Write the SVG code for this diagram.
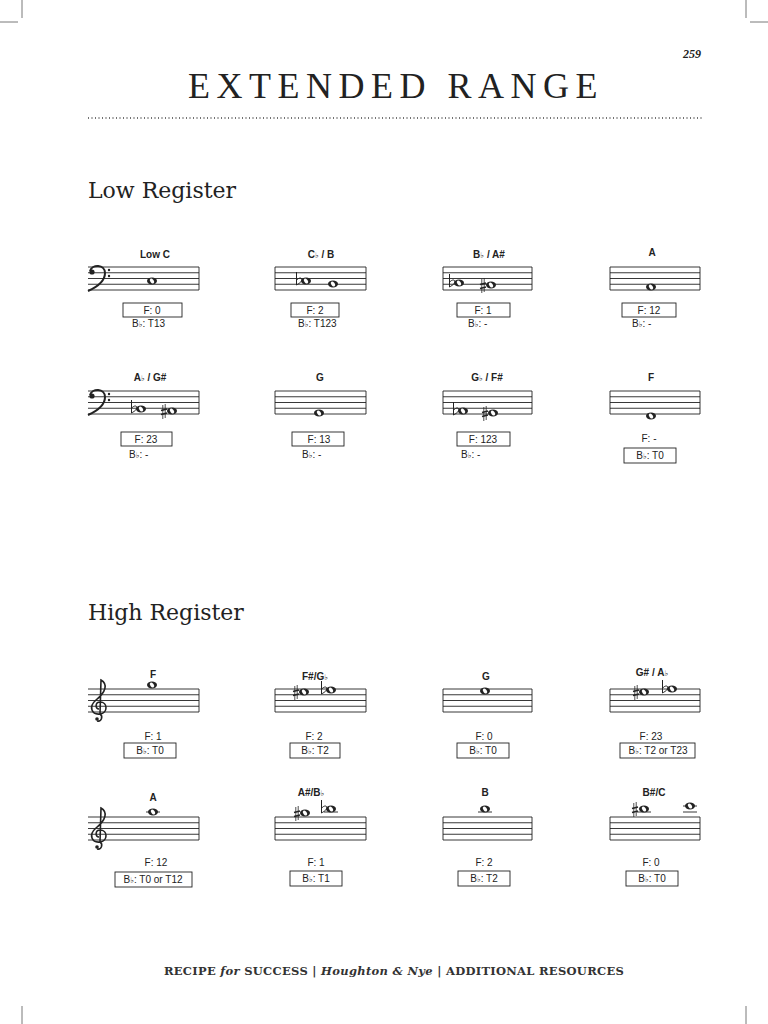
<svg xmlns="http://www.w3.org/2000/svg" width="768" height="1024" viewBox="0 0 768 1024">
<style>
.t{font-family:"Liberation Sans",Arial,sans-serif;font-size:10px;fill:#222}
.lb{font-family:"Liberation Sans",Arial,sans-serif;font-size:10px;font-weight:bold;fill:#222;text-anchor:middle}
.c{text-anchor:middle}
.st line{stroke:#222;stroke-width:0.9}
.bx{fill:none;stroke:#222;stroke-width:0.9}
.fl{font-family:"DejaVu Sans",sans-serif;font-size:8px;font-weight:normal}
.h{font-family:"DejaVu Serif","Liberation Serif",serif;font-size:22px;fill:#222}
.crop{stroke:#555;stroke-width:0.8}
</style>
<defs>
<g id="n"><ellipse rx="5" ry="3.4" fill="#222"/><ellipse rx="1.8" ry="2.8" fill="#fff" transform="rotate(-35)"/></g>
<path id="f" d="M-1.5,-10 L-1.5,3 C2,1 4.5,-1 3.8,-3 C3,-4.8 0,-4 -1.5,-1.5" fill="none" stroke="#222" stroke-width="1"/>
<g id="s" stroke="#222"><line x1="-1.2" y1="-7" x2="-1.2" y2="7" stroke-width="0.8"/><line x1="1.2" y1="-8" x2="1.2" y2="6" stroke-width="0.8"/><line x1="-3" y1="-1.5" x2="3" y2="-3" stroke-width="1.6"/><line x1="-3" y1="2.5" x2="3" y2="1" stroke-width="1.6"/></g>
</defs>
<rect width="768" height="1024" fill="#fff"/>
<g class="crop"><line x1="22" y1="0" x2="22" y2="18"/><line x1="0" y1="22" x2="18" y2="22"/><line x1="746" y1="0" x2="746" y2="18"/><line x1="750" y1="22" x2="768" y2="22"/><line x1="22" y1="1006" x2="22" y2="1024"/><line x1="746" y1="1006" x2="746" y2="1024"/></g>
<text x="701" y="58" font-family="Liberation Serif,serif" font-size="12" font-style="italic" font-weight="bold" text-anchor="end" fill="#222">259</text>
<text x="396" y="98" font-family="Liberation Serif,serif" font-size="36" letter-spacing="6.5" text-anchor="middle" fill="#222">EXTENDED RANGE</text>
<line x1="88" y1="118" x2="703" y2="118" stroke="#444" stroke-width="1.3" stroke-dasharray="1,2.5"/>
<text x="88" y="198" class="h">Low Register</text>
<text x="88" y="620" class="h">High Register</text>

<g id="low1">
<g class="st"><line x1="88" y1="267" x2="199" y2="267"/><line x1="88" y1="272.75" x2="199" y2="272.75"/><line x1="88" y1="278.5" x2="199" y2="278.5"/><line x1="88" y1="284.25" x2="199" y2="284.25"/><line x1="88" y1="290" x2="199" y2="290"/><line x1="199" y1="267" x2="199" y2="290"/>
<line x1="275" y1="267" x2="366" y2="267"/><line x1="275" y1="272.75" x2="366" y2="272.75"/><line x1="275" y1="278.5" x2="366" y2="278.5"/><line x1="275" y1="284.25" x2="366" y2="284.25"/><line x1="275" y1="290" x2="366" y2="290"/><line x1="275" y1="267" x2="275" y2="290"/><line x1="366" y1="267" x2="366" y2="290"/>
<line x1="443" y1="267" x2="532" y2="267"/><line x1="443" y1="272.75" x2="532" y2="272.75"/><line x1="443" y1="278.5" x2="532" y2="278.5"/><line x1="443" y1="284.25" x2="532" y2="284.25"/><line x1="443" y1="290" x2="532" y2="290"/><line x1="443" y1="267" x2="443" y2="290"/><line x1="532" y1="267" x2="532" y2="290"/>
<line x1="610" y1="267" x2="700" y2="267"/><line x1="610" y1="272.75" x2="700" y2="272.75"/><line x1="610" y1="278.5" x2="700" y2="278.5"/><line x1="610" y1="284.25" x2="700" y2="284.25"/><line x1="610" y1="290" x2="700" y2="290"/><line x1="610" y1="267" x2="610" y2="290"/><line x1="700" y1="267" x2="700" y2="290"/></g>
<g fill="#222"><circle cx="92" cy="272" r="2.6"/><path d="M90,271 C92,264 105,264 105,273 C105,281 97,287 88,291" fill="none" stroke="#222" stroke-width="2"/><circle cx="109" cy="270" r="1.2"/><circle cx="109" cy="276" r="1.2"/></g>
<text x="155" y="258" class="lb">Low C</text><use href="#n" x="152" y="281"/>
<text x="321" y="258" class="lb">C<tspan class="fl">♭</tspan> / B</text><use href="#f" x="298" y="282"/><use href="#n" x="306" y="281"/><use href="#n" x="333" y="284"/>
<text x="489" y="258" class="lb">B<tspan class="fl">♭</tspan> / A#</text><use href="#f" x="451" y="284"/><use href="#n" x="459" y="283"/><use href="#s" x="483" y="286"/><use href="#n" x="491" y="285"/>
<text x="652" y="256" class="lb">A</text><use href="#n" x="651" y="287"/>
<rect class="bx" x="123" y="303" width="59" height="14"/><text x="152" y="314" class="t c">F: 0</text><text x="132" y="327" class="t">B<tspan class="fl">♭</tspan>: T13</text>
<rect class="bx" x="291" y="303" width="48" height="14"/><text x="315" y="314" class="t c">F: 2</text><text x="298" y="327" class="t">B<tspan class="fl">♭</tspan>: T123</text>
<rect class="bx" x="457" y="303" width="53" height="14"/><text x="483" y="314" class="t c">F: 1</text><text x="468" y="327" class="t">B<tspan class="fl">♭</tspan>: -</text>
<rect class="bx" x="622" y="303" width="54" height="14"/><text x="649" y="314" class="t c">F: 12</text><text x="632" y="327" class="t">B<tspan class="fl">♭</tspan>: -</text>
</g>

<g id="low2">
<g class="st"><line x1="88" y1="391" x2="199" y2="391"/><line x1="88" y1="396.75" x2="199" y2="396.75"/><line x1="88" y1="402.5" x2="199" y2="402.5"/><line x1="88" y1="408.25" x2="199" y2="408.25"/><line x1="88" y1="414" x2="199" y2="414"/><line x1="199" y1="391" x2="199" y2="414"/>
<line x1="275" y1="391" x2="366" y2="391"/><line x1="275" y1="396.75" x2="366" y2="396.75"/><line x1="275" y1="402.5" x2="366" y2="402.5"/><line x1="275" y1="408.25" x2="366" y2="408.25"/><line x1="275" y1="414" x2="366" y2="414"/><line x1="275" y1="391" x2="275" y2="414"/><line x1="366" y1="391" x2="366" y2="414"/>
<line x1="443" y1="391" x2="532" y2="391"/><line x1="443" y1="396.75" x2="532" y2="396.75"/><line x1="443" y1="402.5" x2="532" y2="402.5"/><line x1="443" y1="408.25" x2="532" y2="408.25"/><line x1="443" y1="414" x2="532" y2="414"/><line x1="443" y1="391" x2="443" y2="414"/><line x1="532" y1="391" x2="532" y2="414"/>
<line x1="610" y1="391" x2="700" y2="391"/><line x1="610" y1="396.75" x2="700" y2="396.75"/><line x1="610" y1="402.5" x2="700" y2="402.5"/><line x1="610" y1="408.25" x2="700" y2="408.25"/><line x1="610" y1="414" x2="700" y2="414"/><line x1="610" y1="391" x2="610" y2="414"/><line x1="700" y1="391" x2="700" y2="414"/></g>
<g fill="#222"><circle cx="92" cy="396" r="2.6"/><path d="M90,395 C92,388 105,388 105,397 C105,405 97,411 88,415" fill="none" stroke="#222" stroke-width="2"/><circle cx="109" cy="394" r="1.2"/><circle cx="109" cy="400" r="1.2"/></g>
<text x="150" y="381" class="lb">A<tspan class="fl">♭</tspan> / G#</text><use href="#f" x="133" y="410"/><use href="#n" x="141" y="409"/><use href="#s" x="164" y="412"/><use href="#n" x="172" y="411"/>
<text x="320" y="381" class="lb">G</text><use href="#n" x="319" y="413"/>
<text x="487" y="381" class="lb">G<tspan class="fl">♭</tspan> / F#</text><use href="#f" x="455" y="412"/><use href="#n" x="463" y="411"/><use href="#s" x="485" y="414"/><use href="#n" x="493" y="413"/>
<text x="651" y="381" class="lb">F</text><use href="#n" x="651" y="416"/>
<rect class="bx" x="121" y="432" width="51" height="14"/><text x="146" y="443" class="t c">F: 23</text><text x="129" y="458" class="t">B<tspan class="fl">♭</tspan>: -</text>
<rect class="bx" x="292" y="432" width="52" height="14"/><text x="319" y="443" class="t c">F: 13</text><text x="302" y="458" class="t">B<tspan class="fl">♭</tspan>: -</text>
<rect class="bx" x="457" y="432" width="53" height="14"/><text x="483" y="443" class="t c">F: 123</text><text x="461" y="458" class="t">B<tspan class="fl">♭</tspan>: -</text>
<text x="649" y="442" class="t c">F: -</text><rect class="bx" x="624" y="448" width="52" height="15"/><text x="650" y="459" class="t c">B<tspan class="fl">♭</tspan>: T0</text>
</g>

<g id="high1">
<g class="st"><line x1="88" y1="689" x2="199" y2="689"/><line x1="88" y1="694.75" x2="199" y2="694.75"/><line x1="88" y1="700.5" x2="199" y2="700.5"/><line x1="88" y1="706.25" x2="199" y2="706.25"/><line x1="88" y1="712" x2="199" y2="712"/><line x1="199" y1="689" x2="199" y2="712"/>
<line x1="275" y1="689" x2="366" y2="689"/><line x1="275" y1="694.75" x2="366" y2="694.75"/><line x1="275" y1="700.5" x2="366" y2="700.5"/><line x1="275" y1="706.25" x2="366" y2="706.25"/><line x1="275" y1="712" x2="366" y2="712"/><line x1="275" y1="689" x2="275" y2="712"/><line x1="366" y1="689" x2="366" y2="712"/>
<line x1="443" y1="689" x2="532" y2="689"/><line x1="443" y1="694.75" x2="532" y2="694.75"/><line x1="443" y1="700.5" x2="532" y2="700.5"/><line x1="443" y1="706.25" x2="532" y2="706.25"/><line x1="443" y1="712" x2="532" y2="712"/><line x1="443" y1="689" x2="443" y2="712"/><line x1="532" y1="689" x2="532" y2="712"/>
<line x1="610" y1="689" x2="700" y2="689"/><line x1="610" y1="694.75" x2="700" y2="694.75"/><line x1="610" y1="700.5" x2="700" y2="700.5"/><line x1="610" y1="706.25" x2="700" y2="706.25"/><line x1="610" y1="712" x2="700" y2="712"/><line x1="610" y1="689" x2="610" y2="712"/><line x1="700" y1="689" x2="700" y2="712"/></g>
<path d="M97,721 C102,722 103,716 100,714 L101,680 C108,684 106,692 96,700 C88,707 92,715 100,714 C108,713 108,702 100,702 C95,702 95,709 99,709" fill="none" stroke="#222" stroke-width="1.6"/><circle cx="97" cy="719" r="1.8" fill="#222"/>
<text x="153" y="678" class="lb">F</text><use href="#n" x="152" y="685"/>
<text x="315" y="680" class="lb">F#/G<tspan class="fl">♭</tspan></text><use href="#s" x="296" y="693"/><use href="#n" x="304" y="692"/><use href="#f" x="323" y="691"/><use href="#n" x="331" y="690"/>
<text x="486" y="680" class="lb">G</text><use href="#n" x="485" y="691"/>
<text x="652" y="676" class="lb">G# / A<tspan class="fl">♭</tspan></text><use href="#s" x="636" y="693"/><use href="#n" x="644" y="692"/><use href="#f" x="664" y="690"/><use href="#n" x="672" y="689"/>
<text x="153" y="740" class="t c">F: 1</text><rect class="bx" x="124" y="743" width="52" height="15"/><text x="150" y="754" class="t c">B<tspan class="fl">♭</tspan>: T0</text>
<text x="314" y="740" class="t c">F: 2</text><rect class="bx" x="290" y="743" width="50" height="15"/><text x="315" y="754" class="t c">B<tspan class="fl">♭</tspan>: T2</text>
<text x="484" y="740" class="t c">F: 0</text><rect class="bx" x="457" y="743" width="52" height="15"/><text x="483" y="754" class="t c">B<tspan class="fl">♭</tspan>: T0</text>
<text x="651" y="740" class="t c">F: 23</text><rect class="bx" x="620" y="743" width="75" height="15"/><text x="658" y="754" class="t c">B<tspan class="fl">♭</tspan>: T2 or T23</text>
</g>

<g id="high2">
<g class="st"><line x1="88" y1="817" x2="199" y2="817"/><line x1="88" y1="822.75" x2="199" y2="822.75"/><line x1="88" y1="828.5" x2="199" y2="828.5"/><line x1="88" y1="834.25" x2="199" y2="834.25"/><line x1="88" y1="840" x2="199" y2="840"/><line x1="199" y1="817" x2="199" y2="840"/>
<line x1="275" y1="817" x2="366" y2="817"/><line x1="275" y1="822.75" x2="366" y2="822.75"/><line x1="275" y1="828.5" x2="366" y2="828.5"/><line x1="275" y1="834.25" x2="366" y2="834.25"/><line x1="275" y1="840" x2="366" y2="840"/><line x1="275" y1="817" x2="275" y2="840"/><line x1="366" y1="817" x2="366" y2="840"/>
<line x1="443" y1="817" x2="532" y2="817"/><line x1="443" y1="822.75" x2="532" y2="822.75"/><line x1="443" y1="828.5" x2="532" y2="828.5"/><line x1="443" y1="834.25" x2="532" y2="834.25"/><line x1="443" y1="840" x2="532" y2="840"/><line x1="443" y1="817" x2="443" y2="840"/><line x1="532" y1="817" x2="532" y2="840"/>
<line x1="610" y1="817" x2="700" y2="817"/><line x1="610" y1="822.75" x2="700" y2="822.75"/><line x1="610" y1="828.5" x2="700" y2="828.5"/><line x1="610" y1="834.25" x2="700" y2="834.25"/><line x1="610" y1="840" x2="700" y2="840"/><line x1="610" y1="817" x2="610" y2="840"/><line x1="700" y1="817" x2="700" y2="840"/></g>
<path d="M97,849 C102,850 103,844 100,842 L101,808 C108,812 106,820 96,828 C88,835 92,843 100,842 C108,841 108,830 100,830 C95,830 95,837 99,837" fill="none" stroke="#222" stroke-width="1.6"/><circle cx="97" cy="847" r="1.8" fill="#222"/>
<g class="st"><line x1="146" y1="812" x2="160" y2="812"/><line x1="324" y1="812" x2="338" y2="812"/><line x1="478" y1="812" x2="492" y2="812"/><line x1="637" y1="812" x2="651" y2="812"/><line x1="683" y1="812" x2="697" y2="812"/><line x1="683" y1="806" x2="697" y2="806"/></g>
<text x="153" y="801" class="lb">A</text><use href="#n" x="153" y="812"/>
<text x="311" y="796" class="lb">A#/B<tspan class="fl">♭</tspan></text><use href="#s" x="297" y="814"/><use href="#n" x="305" y="813"/><use href="#f" x="323" y="810"/><use href="#n" x="331" y="809"/>
<text x="485" y="796" class="lb">B</text><use href="#n" x="485" y="809"/>
<text x="654" y="796" class="lb">B#/C</text><use href="#s" x="635" y="810"/><use href="#n" x="644" y="809"/><use href="#n" x="690" y="806"/>
<text x="156" y="866" class="t c">F: 12</text><rect class="bx" x="115" y="872" width="77" height="15"/><text x="153" y="883" class="t c">B<tspan class="fl">♭</tspan>: T0 or T12</text>
<text x="316" y="866" class="t c">F: 1</text><rect class="bx" x="290" y="871" width="52" height="15"/><text x="316" y="882" class="t c">B<tspan class="fl">♭</tspan>: T1</text>
<text x="484" y="866" class="t c">F: 2</text><rect class="bx" x="458" y="871" width="52" height="15"/><text x="484" y="882" class="t c">B<tspan class="fl">♭</tspan>: T2</text>
<text x="651" y="866" class="t c">F: 0</text><rect class="bx" x="626" y="871" width="52" height="15"/><text x="652" y="882" class="t c">B<tspan class="fl">♭</tspan>: T0</text>
</g>

<text x="394" y="975" font-family="DejaVu Serif,serif" font-size="11.5" font-weight="bold" letter-spacing="0.3" text-anchor="middle" fill="#333">RECIPE <tspan font-style="italic">for</tspan> SUCCESS  |  <tspan font-style="italic">Houghton &amp; Nye</tspan>  |  ADDITIONAL RESOURCES</text>
</svg>
